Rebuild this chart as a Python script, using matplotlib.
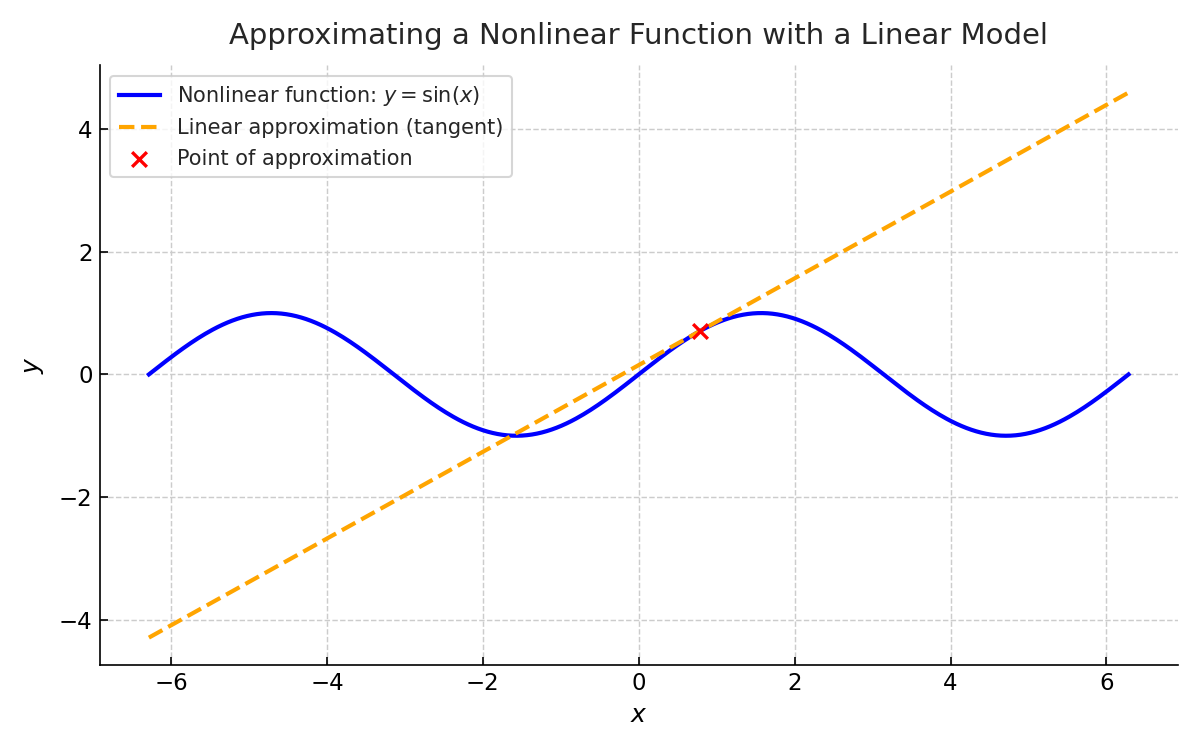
import numpy as np
import matplotlib
matplotlib.use("Agg")
import matplotlib.pyplot as plt

# the function and the point where it is linearised
x_min, x_max = -2 * np.pi, 2 * np.pi
n_points = 400
x0 = np.pi / 4

x = np.linspace(x_min, x_max, n_points)
y = np.sin(x)

y0 = np.sin(x0)
slope = np.cos(x0)
y_tangent = y0 + slope * (x - x0)

fig, ax = plt.subplots(figsize=(8, 5), dpi=150)

ax.plot(x, y, color="blue", linewidth=2, label=r"Nonlinear function: $y = \sin(x)$")
ax.plot(x, y_tangent, color="orange", linestyle="--", linewidth=2,
        label="Linear approximation (tangent)")
ax.scatter([x0], [y0], color="red", marker="x", s=50, linewidths=1.6, zorder=5,
           label="Point of approximation")

ax.set_title("Approximating a Nonlinear Function with a Linear Model",
             fontsize=14, color="#262626", pad=10)
ax.set_xlabel("$x$", fontsize=12)
ax.set_ylabel("$y$", fontsize=12, labelpad=6)

ax.spines["top"].set_visible(False)
ax.spines["right"].set_visible(False)
ax.tick_params(direction="in", length=4, labelsize=11)
ax.grid(True, linestyle="--", color="#cccccc", linewidth=0.7)
ax.set_axisbelow(True)
leg = ax.legend(loc="upper left", fontsize=10)
for t in leg.get_texts():
    t.set_color("#262626")

fig.tight_layout()
fig.savefig("out.png", dpi=150)
